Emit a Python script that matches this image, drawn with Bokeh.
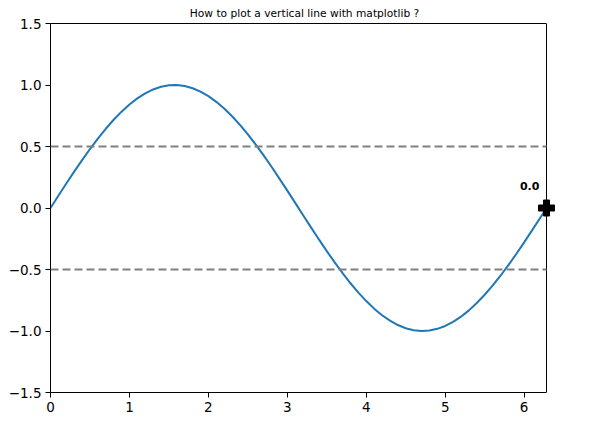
from bokeh.plotting import figure
from bokeh.models import Span, FixedTicker, Range1d, Label, BoxAnnotation, LinearAxis
from bokeh.embed import file_html
from bokeh.resources import INLINE

x_vals = [0.0, 0.1, 0.2, 0.3, 0.4, 0.5, 0.6, 0.7, 0.8, 0.9, 1.0, 1.1, 1.2, 1.3, 1.4, 1.5,
          1.6, 1.7, 1.8, 1.9, 2.0, 2.1, 2.2, 2.3, 2.4, 2.5, 2.6, 2.7, 2.8, 2.9, 3.0, 3.1,
          3.2, 3.3, 3.4, 3.5, 3.6, 3.7, 3.8, 3.9, 4.0, 4.1, 4.2, 4.3, 4.4, 4.5, 4.6, 4.7,
          4.8, 4.9, 5.0, 5.1, 5.2, 5.3, 5.4, 5.5, 5.6, 5.7, 5.8, 5.9, 6.0, 6.1, 6.2, 6.283]
y_vals = [0.0, 0.0998, 0.1987, 0.2955, 0.3894, 0.4794, 0.5646, 0.6442, 0.7174, 0.7833,
          0.8415, 0.8912, 0.9320, 0.9636, 0.9854, 0.9975, 0.9996, 0.9917, 0.9738, 0.9463,
          0.9093, 0.8632, 0.8085, 0.7457, 0.6755, 0.5985, 0.5155, 0.4274, 0.3350, 0.2392,
          0.1411, 0.0416, -0.0584, -0.1577, -0.2555, -0.3508, -0.4425, -0.5298, -0.6119,
          -0.6878, -0.7568, -0.8183, -0.8716, -0.9162, -0.9516, -0.9775, -0.9937, -0.9999,
          -0.9962, -0.9825, -0.9589, -0.9258, -0.8835, -0.8323, -0.7728, -0.7055, -0.6313,
          -0.5507, -0.4646, -0.3739, -0.2794, -0.1822, -0.0831, 0.0]
hlines = [0.5, -0.5]
marker_x = [6.283]
marker_y = [0.0]
marker_label = "0.0"
label_pos = (6.07, 0.175)
x_ticks = [0, 1, 2, 3, 4, 5, 6]
y_ticks = [-1.5, -1.0, -0.5, 0.0, 0.5, 1.0, 1.5]
y_tick_labels = ["\u22121.5", "\u22121.0", "\u22120.5", "0.0", "0.5", "1.0", "1.5"]
title = "How to plot a vertical line with matplotlib ?"

X0, X1 = 0.0, 6.283
Y0, Y1 = -1.5, 1.5
# the frame is extended a little past 2*pi so the marker is not clipped (clip_on=False);
# the visible axes box is drawn with bounded axis lines at the true limits
extra = 12
fw = 496
p = figure(width=590, height=416, output_backend="svg", toolbar_location=None,
           x_range=Range1d(X0, X1 * (fw + extra) / fw), y_range=Range1d(Y0, Y1),
           frame_width=fw + extra, frame_height=369,
           min_border_left=50, min_border_right=32, min_border_top=23, min_border_bottom=24)
p.title.text = title
p.title.text_font = "DejaVu Sans"
p.title.text_font_size = "8pt"
p.title.text_font_style = "normal"
p.title.text_color = "black"
p.title.align = "center"
p.title.standoff = 7
p.title.offset = -extra / 2

p.xgrid.visible = False
p.ygrid.visible = False
p.outline_line_color = None

bottom_axis = p.below[0]
left_axis = p.left[0]

for ax in (bottom_axis, left_axis):
    ax.axis_line_color = "black"
    ax.major_tick_line_color = "black"
    ax.major_tick_in = 0
    ax.major_tick_out = 5
    ax.minor_tick_line_color = None
    ax.major_label_text_font = "DejaVu Sans"
    ax.major_label_text_font_size = "13.5px"
    ax.major_label_text_color = "black"
    ax.major_label_standoff = 4

bottom_axis.bounds = (X0, X1)
bottom_axis.ticker = FixedTicker(ticks=x_ticks)
left_axis.ticker = FixedTicker(ticks=y_ticks)
left_axis.major_label_overrides = {t: l for t, l in zip(y_ticks, y_tick_labels)}

top_axis = LinearAxis(bounds=(X0, X1), ticker=FixedTicker(ticks=[]),
                      major_tick_line_color=None, minor_tick_line_color=None,
                      major_label_text_alpha=0, major_label_standoff=0,
                      axis_line_color="black")
p.add_layout(top_axis, "above")

p.add_layout(Span(location=X1, dimension="height", line_color="black", line_width=1))

for h in hlines:
    p.add_layout(BoxAnnotation(left=X0, right=X1, bottom=h, top=h,
                               fill_color=None, fill_alpha=0,
                               line_color="gray", line_alpha=1.0,
                               line_width=2, line_dash="8 4"))

p.line(x_vals, y_vals, line_color="#1f77b4", line_width=2)
p.scatter(marker_x, marker_y, marker="plus", size=16, fill_color="black",
          line_color="black", line_width=1)

p.add_layout(Label(x=label_pos[0], y=label_pos[1], text=marker_label,
                   text_font="DejaVu Sans", text_font_size="11px", text_font_style="bold",
                   text_align="center", text_baseline="middle", text_color="black"))

open("out.html", "w").write(file_html(p, INLINE))
